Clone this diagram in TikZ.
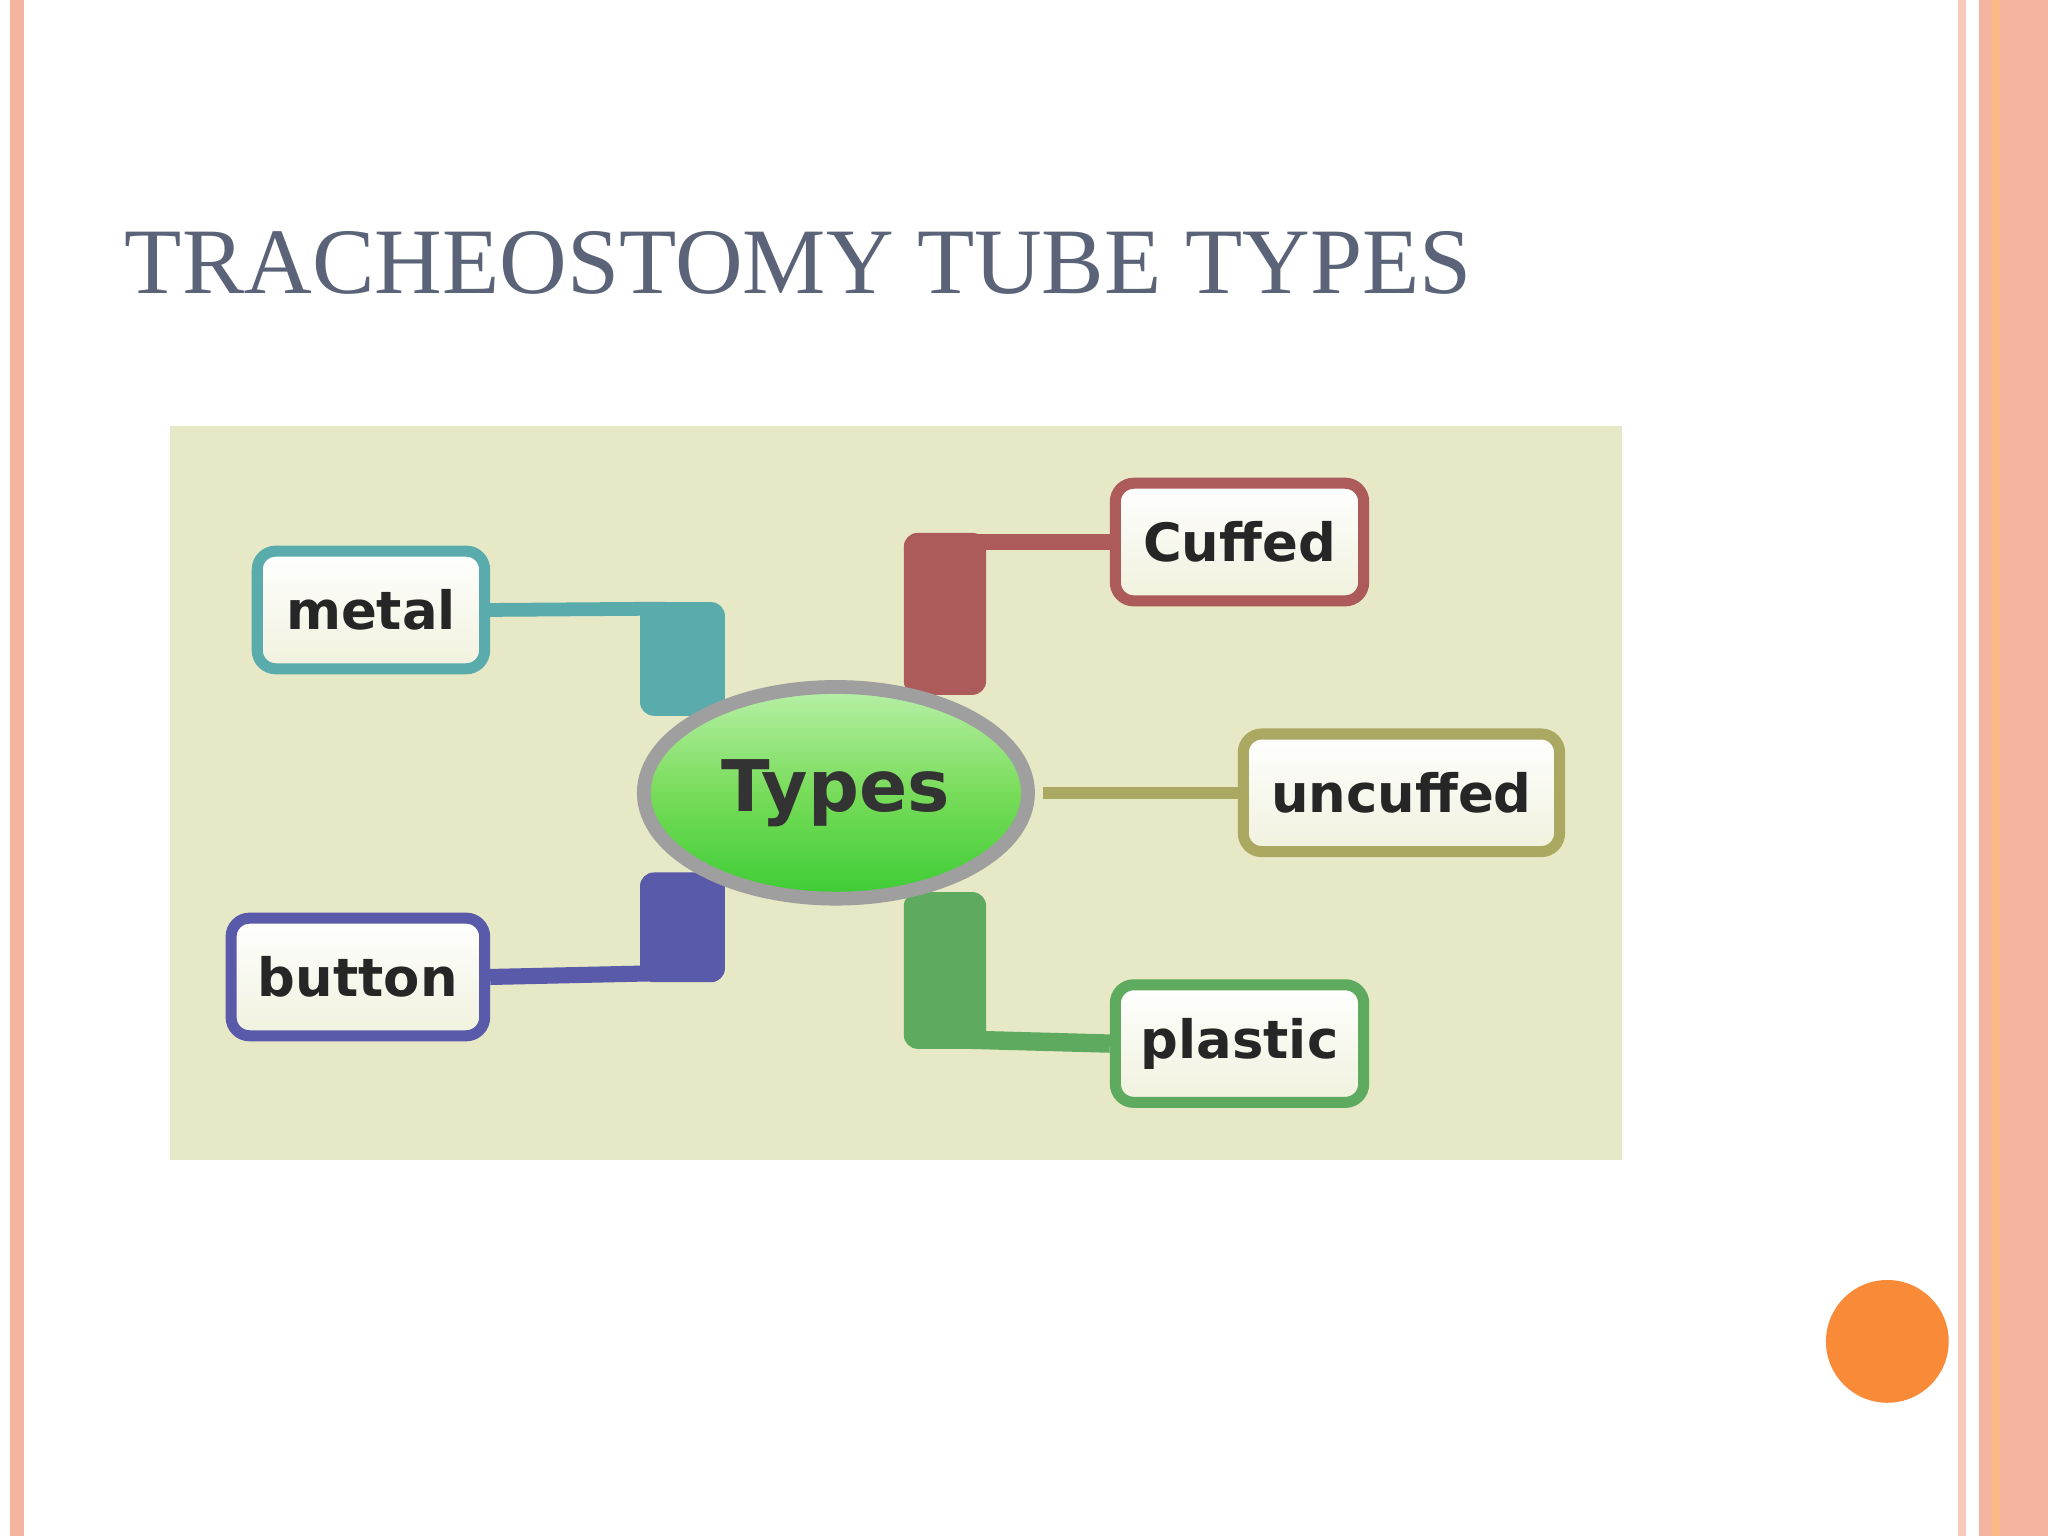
\documentclass[tikz,border=0pt]{standalone}
\usepackage{fontspec}
\setmainfont{Liberation Serif}
\newfontfamily\boxfont{DejaVu Sans}
\usetikzlibrary{shapes.geometric}
\definecolor{titlegrey}{HTML}{5A6378}
\definecolor{panelbg}{HTML}{E6E8C6}
\definecolor{metalc}{HTML}{5AABAB}
\definecolor{buttonc}{HTML}{5A5AAA}
\definecolor{cuffedc}{HTML}{AD5A5A}
\definecolor{uncuffedc}{HTML}{ABA862}
\definecolor{plasticc}{HTML}{5EAA5E}
\definecolor{pinkc}{HTML}{F4B4A0}
\definecolor{orangec}{HTML}{F98A38}
\definecolor{greentop}{HTML}{B8F0A8}
\definecolor{greenmid}{HTML}{78DC5A}
\definecolor{greenbot}{HTML}{3CCC34}
\begin{document}
\begin{tikzpicture}[
  x=0.01cm, y=-0.01cm,
  typebox/.style={rectangle, rounded corners=4pt, line width=2.4pt, draw=#1,
    top color=white, bottom color=panelbg!60, minimum height=0.9cm, inner sep=1pt,
    font=\boxfont\bfseries\fontsize{11.5}{14}\selectfont, text=black!85},
  band/.style={fill=#1, draw=none, rounded corners=3pt}
]
% page and borders
\useasboundingbox (0,0) rectangle (1568,1176);
\fill[white] (0,0) rectangle (1568,1176);
\fill[pinkc] (8,0) rectangle (18,1176);
\fill[pinkc!70] (1499,0) rectangle (1505,1176);
\fill[pinkc] (1515,0) rectangle (1568,1176);
\fill[orangec!60] (1525,0) rectangle (1531,1176);

% title
\node[anchor=base west, text=titlegrey, font=\fontsize{20.4}{24}\selectfont, inner sep=0]
  (title) at (95,225) {TRACHEOSTOMY TUBE TYPES};

% panel
\fill[panelbg] (130,326) rectangle (1242,888);

% boxes
\node[typebox=metalc, minimum width=1.74cm] (metal) at (284,467) {metal};
\node[typebox=buttonc, minimum width=1.94cm] (button) at (274,748) {button};
\node[typebox=cuffedc, minimum width=1.90cm] (cuffed) at (949,415) {Cuffed};
\node[typebox=uncuffedc, minimum width=2.42cm] (uncuffed) at (1073,607) {uncuffed};
\node[typebox=plasticc, minimum width=1.90cm] (plastic) at (949,799) {plastic};

% connectors
\draw[metalc, line width=3pt] (metal.east) -- (510,466);
\fill[band=metalc] (490,548) -- (490,461) -- (555,461) -- (555,548) -- cycle;
\draw[buttonc, line width=3.5pt] (button.east) -- (510,745);
\fill[band=buttonc] (490,668) -- (555,668) -- (555,752) -- (490,752) -- cycle;
\draw[cuffedc, line width=3.5pt] (740,415) -- (cuffed.west);
\fill[band=cuffedc] (692,532) -- (692,408) -- (755,408) -- (755,532) -- cycle;
\draw[plasticc, line width=4pt] (740,796) -- (plastic.west);
\fill[band=plasticc] (692,683) -- (755,683) -- (755,803) -- (692,803) -- cycle;

% center
\node[ellipse, draw=gray!75, line width=3pt, minimum width=2.94cm, minimum height=1.62cm, inner sep=0pt,
  top color=greentop, bottom color=greenbot, middle color=greenmid,
  font=\boxfont\bfseries\fontsize{15.5}{18}\selectfont, text=black!80] (types) at (640,607) {Types};
\draw[uncuffedc, line width=2.5pt] (types.east) ++(6,0) -- (uncuffed.west);

% dot
\fill[orangec] (1445,1027) circle (47);
\end{tikzpicture}
\end{document}
